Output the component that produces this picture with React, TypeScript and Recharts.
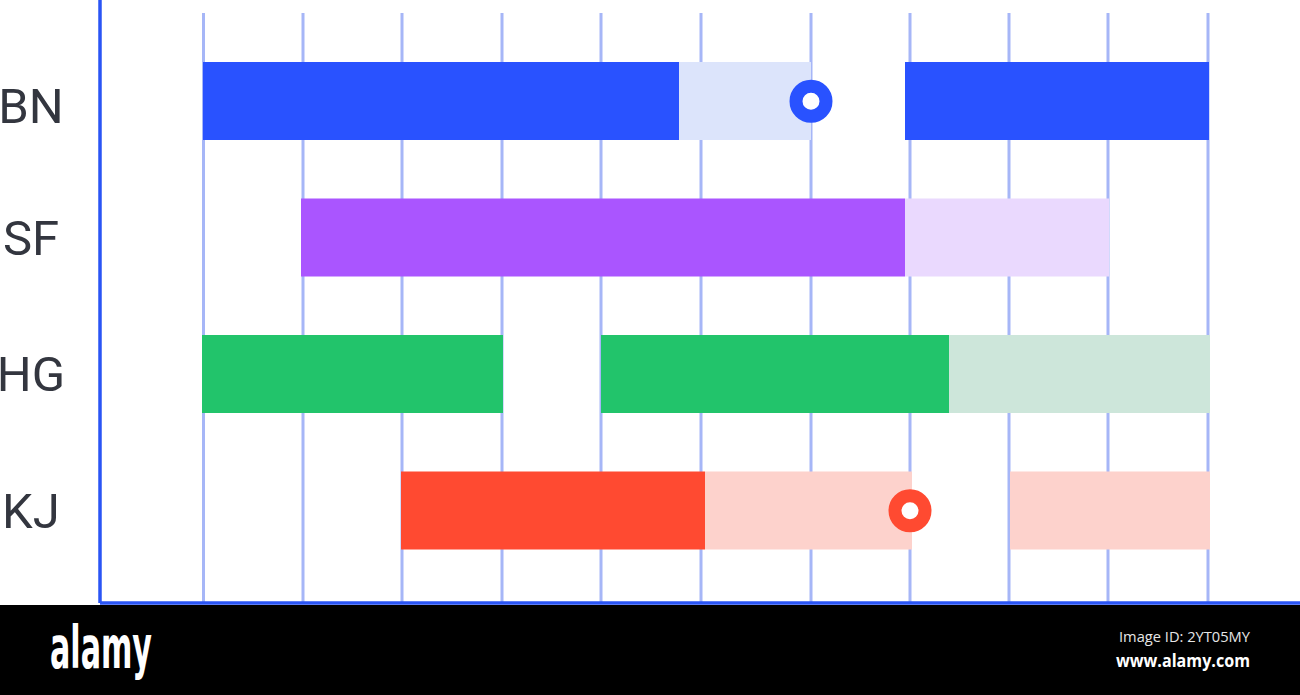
import React from 'react';
import { BarChart, Bar, XAxis, YAxis, CartesianGrid, ReferenceDot, Cell } from 'recharts';

// Rows (categories)
const categories = ['BN', 'SF', 'HG', 'KJ'];

// Segment lists per row: [start, end, kind]
const bnSegments: [number, number, string][] = [
  [1.03, 5.79, 'solid'],
  [5.79, 7.11, 'light'],
  [8.05, 11.09, 'solid'],
];
const sfSegments: [number, number, string][] = [
  [2.01, 8.05, 'solid'],
  [8.05, 10.09, 'light'],
];
const hgSegments: [number, number, string][] = [
  [1.02, 4.03, 'solid'],
  [5.01, 8.49, 'solid'],
  [8.49, 11.1, 'light'],
];
const kjSegments: [number, number, string][] = [
  [3.01, 6.05, 'solid'],
  [6.05, 8.12, 'light'],
  [9.1, 11.1, 'light'],
];

const solidColors = ['#2952ff', '#aa55ff', '#22c46b', '#ff4a31'];
const lightColors = ['#dce4fb', '#ead9fe', '#cde6da', '#fdd2cc'];

// Milestone markers
const markerRows = ['BN', 'KJ'];
const markerValues = [7.11, 8.1];
const markerColors = ['#2952ff', '#ff4a31'];

// Vertical grid positions
const gridTicks = [1.035, 2.03, 3.02, 4.02, 5.01, 6.01, 7.11, 8.1, 9.09, 10.08, 11.08];
const xDomain = [0, 12];

const allSegments = [bnSegments, sfSegments, hgSegments, kjSegments];
const MAX_SEGS = 3;

const tableData = categories.map((name, i) => {
  const row: any = { name };
  let cursor = 0;
  for (let k = 0; k < MAX_SEGS; k++) {
    const seg = allSegments[i][k];
    if (seg) {
      row['g' + k] = seg[0] - cursor;
      row['s' + k] = seg[1] - seg[0];
      row['k' + k] = seg[2];
      cursor = seg[1];
    } else {
      row['g' + k] = 0;
      row['s' + k] = 0;
      row['k' + k] = 'solid';
    }
  }
  return row;
});

const RowTick = (props: any) => {
  const { y, payload } = props;
  const dy = payload.value === 'BN' ? 22 : 17;
  return (
    <text
      x={31}
      y={y}
      dy={dy}
      textAnchor="middle"
      fontFamily="Roboto, 'Noto Sans', sans-serif"
      fontSize={49}
      fill="#33363f"
    >
      {payload.value}
    </text>
  );
};

const gridGen = (args: any) => {
  const scale = args?.xAxis?.scale;
  return gridTicks.map((t) => {
    if (typeof scale === 'function') return scale(t);
    if (scale && typeof scale.map === 'function') return scale.map(t);
    const off = args?.offset ?? { left: 100, width: 1200 };
    return off.left + ((t - xDomain[0]) / (xDomain[1] - xDomain[0])) * off.width;
  });
};

export default function App() {
  const segKeys = Array.from({ length: MAX_SEGS }, (_, k) => k);
  return (
    <div
      style={{
        position: 'absolute',
        left: 0,
        top: 0,
        width: 1300,
        height: 695,
        background: '#ffffff',
        overflow: 'hidden',
      }}
    >
      <BarChart
        width={1300}
        height={605}
        data={tableData}
        layout="vertical"
        margin={{ top: 0, right: 0, bottom: 0, left: 0 }}
        barCategoryGap={0}
      >
        <CartesianGrid
          horizontal={false}
          vertical={true}
          stroke="#a6b6f7"
          strokeWidth={3}
          y={13}
          height={590}
          verticalCoordinatesGenerator={gridGen}
        />
        <XAxis
          type="number"
          domain={xDomain}
          ticks={gridTicks}
          tick={false}
          tickLine={false}
          height={2}
          axisLine={{ stroke: '#2a55f5', strokeWidth: 3.5 }}
          allowDataOverflow
        />
        <YAxis
          type="category"
          dataKey="name"
          width={100}
          tickLine={false}
          axisLine={{ stroke: '#2a55f5', strokeWidth: 3.5 }}
          tick={<RowTick />}
          padding={{ top: 33, bottom: 24 }}
        />
        {segKeys.map((k) => [
          <Bar
            key={'g' + k}
            dataKey={'g' + k}
            stackId="a"
            fill="transparent"
            barSize={78}
            isAnimationActive={false}
          />,
          <Bar
            key={'s' + k}
            dataKey={'s' + k}
            stackId="a"
            barSize={78}
            isAnimationActive={false}
          >
            {tableData.map((row, i) => (
              <Cell
                key={i}
                fill={row['k' + k] === 'light' ? lightColors[i] : solidColors[i]}
              />
            ))}
          </Bar>,
        ])}
        {markerRows.map((r, i) => (
          <ReferenceDot
            key={r}
            x={markerValues[i]}
            y={r}
            r={15}
            fill="#ffffff"
            stroke={markerColors[i]}
            strokeWidth={13}
            ifOverflow="visible"
          />
        ))}
      </BarChart>
      <svg
        width={1300}
        height={90}
        style={{ position: 'absolute', left: 0, top: 605, display: 'block' }}
      >
        <rect x={0} y={0} width={1300} height={90} fill="#000000" />
        <text
          x={50}
          y={63}
          fill="#ffffff"
          fontFamily="'Liberation Sans Narrow', 'DejaVu Sans Condensed', 'Liberation Sans', sans-serif"
          fontWeight="bold"
          fontSize={58}
          textLength={102}
          lengthAdjust="spacingAndGlyphs"
        >
          alamy
        </text>
        <text
          x={1119}
          y={37}
          fill="#e6e6e6"
          fontFamily="'Open Sans', 'Noto Sans', sans-serif"
          fontSize={15}
          textLength={131}
          lengthAdjust="spacingAndGlyphs"
        >
          Image ID: 2YT05MY
        </text>
        <text
          x={1116}
          y={62}
          fill="#ffffff"
          fontFamily="'Open Sans', 'Noto Sans', sans-serif"
          fontWeight="bold"
          fontSize={17}
          textLength={134}
          lengthAdjust="spacingAndGlyphs"
        >
          www.alamy.com
        </text>
      </svg>
    </div>
  );
}
